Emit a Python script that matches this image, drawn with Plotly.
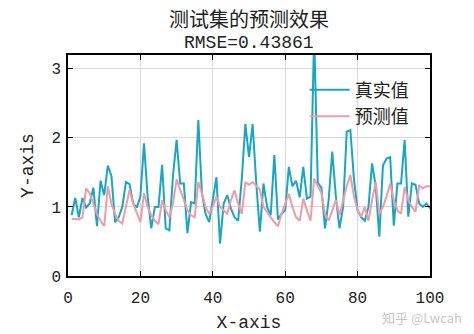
import plotly.graph_objects as go

# sample index of the test set
x_idx = list(range(1, 101))

# measured values (真实值)
y_true = [
    0.88, 1.13, 0.85, 1.13, 0.99, 1.05, 1.28, 0.72, 1.38, 1.17,
    1.60, 1.45, 0.78, 0.85, 1.00, 1.36, 1.33, 1.05, 0.99, 1.15,
    1.92, 1.15, 0.69, 1.00, 1.00, 1.61, 0.69, 0.66, 1.45, 1.97,
    1.34, 1.34, 0.62, 1.07, 1.05, 2.26, 1.20, 0.90, 0.78, 1.10,
    1.43, 0.47, 1.05, 1.17, 0.98, 0.85, 0.80, 1.40, 2.20, 1.72,
    2.20, 1.35, 0.64, 1.34, 1.00, 0.88, 1.75, 0.82, 0.90, 0.95,
    1.58, 1.30, 1.38, 1.14, 1.58, 1.12, 1.15, 3.50, 1.35, 1.28,
    0.69, 1.10, 1.80, 1.15, 0.69, 1.00, 2.09, 2.11, 1.40, 0.95,
    0.85, 0.80, 1.00, 1.63, 1.30, 0.57, 1.60, 1.70, 1.72, 0.73,
    1.34, 1.34, 1.97, 0.86, 1.34, 1.32, 1.05, 1.00, 1.05, 0.98,
]

# model predictions (预测值)
y_pred = [
    0.83, 0.83, 0.82, 0.85, 1.27, 1.20, 1.05, 0.90, 0.80, 0.72,
    1.30, 1.05, 0.90, 0.80, 0.76, 1.00, 1.25, 1.05, 0.90, 0.78,
    1.20, 1.00, 0.88, 0.80, 0.75, 1.10, 0.95, 0.85, 1.05, 1.40,
    1.25, 1.10, 0.95, 0.88, 0.85, 1.36, 1.20, 1.00, 0.90, 1.00,
    1.15, 1.00, 0.95, 0.90, 1.10, 1.24, 1.05, 0.90, 1.36, 1.32,
    1.36, 1.30, 1.25, 1.00, 0.92, 0.85, 0.78, 0.72, 0.90, 1.05,
    1.19, 1.00, 0.85, 0.80, 1.12, 0.95, 0.80, 1.41, 1.30, 1.20,
    0.90, 0.80, 0.95, 1.10, 0.88, 1.10, 1.30, 1.46, 1.15, 0.95,
    0.86, 1.00, 0.80, 1.10, 1.36, 0.90, 1.00, 1.15, 1.34, 1.10,
    0.95, 0.90, 1.29, 1.10, 1.00, 0.93, 1.31, 1.27, 1.30, 1.30,
]

rmse_text = "RMSE=0.43861"
x_ticks = [0, 20, 40, 60, 80, 100]
y_ticks = [0, 1, 2, 3]

MONO = "Liberation Mono, Noto Sans CJK SC, monospace"
CJK = "Noto Sans CJK SC"
INK = "#222"
TEAL = "#17A6C4"
PINK = "#F09BA6"

fig = go.Figure()
fig.add_trace(go.Scatter(x=x_idx, y=y_true, mode="lines", name="真实值",
                         line=dict(color=TEAL, width=2)))
fig.add_trace(go.Scatter(x=x_idx, y=y_pred, mode="lines", name="预测值",
                         line=dict(color=PINK, width=2)))

axis_common = dict(
    showline=True, linecolor="black", linewidth=1.5, mirror="ticks",
    ticks="inside", ticklen=5, tickwidth=1.2, tickcolor="black",
    showgrid=True, gridcolor="#DADADA", gridwidth=1, zeroline=False,
    tickfont=dict(family=MONO, size=16, color=INK), automargin=False,
)

fig.update_layout(
    width=474, height=334,
    margin=dict(l=68, r=44, t=55, b=58),
    paper_bgcolor="white", plot_bgcolor="white",
    font=dict(family=MONO, color=INK),
    showlegend=True,
    legend=dict(x=0.955, y=0.925, xanchor="right", yanchor="top",
                bgcolor="rgba(0,0,0,0)", borderwidth=0,
                font=dict(family=CJK, size=18, color=INK),
                tracegroupgap=0, itemwidth=40),
    xaxis=dict(range=[0, 100], tickvals=x_ticks, ticklabelstandoff=6,
               title=dict(text="X-axis", font=dict(family=MONO, size=18), standoff=8),
               **axis_common),
    yaxis=dict(range=[0, 3.2], tickvals=y_ticks, ticklabelstandoff=2,
               title=dict(text="Y-axis", font=dict(family=MONO, size=18), standoff=13),
               **axis_common),
)

# two-line title
fig.add_annotation(text="测试集的预测效果", xref="paper", yref="paper",
                   x=0.5, y=1, yshift=37, showarrow=False, yanchor="middle",
                   font=dict(family=CJK, size=20, color=INK))
fig.add_annotation(text=rmse_text, xref="paper", yref="paper",
                   x=0.5, y=1, yshift=12, showarrow=False, yanchor="middle",
                   font=dict(family=MONO, size=18, color=INK))

# watermark
fig.add_annotation(text="知乎 @Lwcah", xref="paper", yref="paper",
                   x=1.095, y=0, yshift=-41, xanchor="right", yanchor="middle",
                   showarrow=False,
                   font=dict(family=CJK, size=13, color="#C8C8C8"))

fig.write_html("out.html")
